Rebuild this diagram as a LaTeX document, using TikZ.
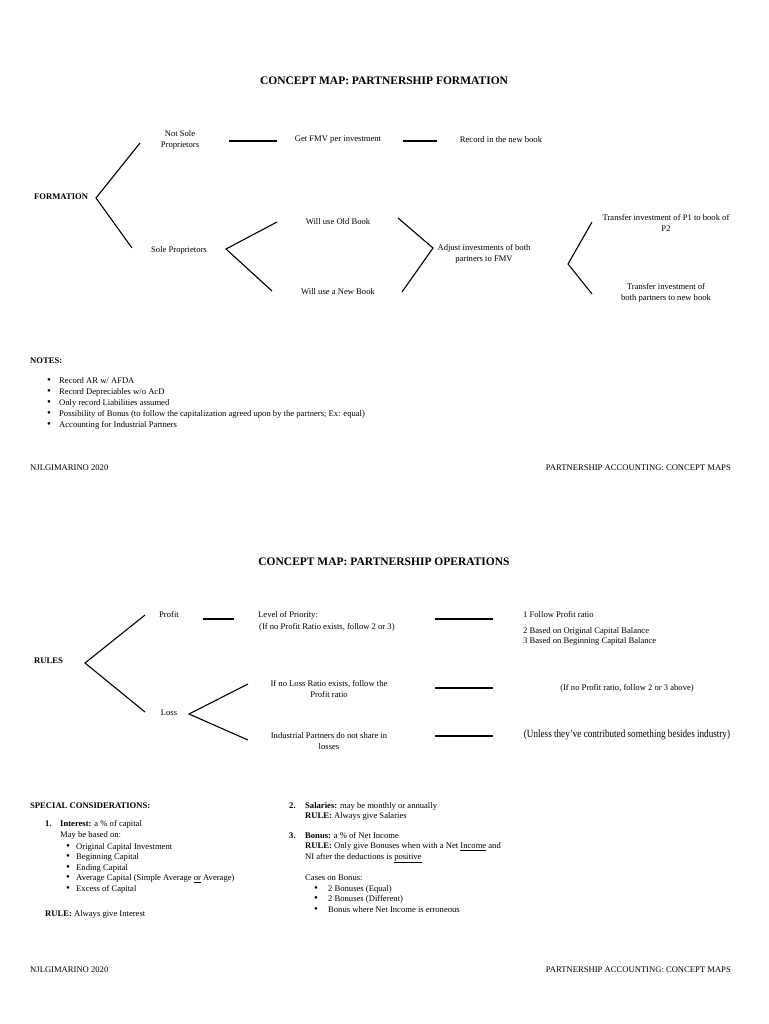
\documentclass[tikz,border=0pt]{standalone}
\usepackage{fontspec}
\setmainfont{Liberation Serif}
\begin{document}
\begin{tikzpicture}[x=1pt,y=-1pt,
  every node/.style={inner sep=0pt, font=\fontsize{8.6}{11.5}\selectfont},
  lbl/.style={align=center},
  lft/.style={anchor=west},
  ttl/.style={font=\fontsize{11.5}{13}\selectfont\bfseries},
  bold/.style={anchor=west, font=\fontsize{8.6}{11.5}\selectfont\bfseries},
  bul/.style={font=\fontsize{11}{11}\selectfont},
  conn/.style={line width=1.1pt, black}
]
\useasboundingbox (0,0) rectangle (768,1024);
\fill[white] (0,0) rectangle (768,1024);

% ---------------- PAGE 1 ----------------
\node[ttl] (t1) at (384,81) {CONCEPT MAP: PARTNERSHIP FORMATION};

\node[bold] (form) at (34,197) {FORMATION};
\node[lbl] (nsp) at (180,140) {Not Sole\\Proprietors};
\node[lbl] (sp) at (179,250) {Sole Proprietors};
\node[lbl] (fmv) at (338,140) {Get FMV per investment};
\node[lbl] (rec) at (501,140) {Record in the new book};
\node[lbl] (old) at (338,222) {Will use Old Book};
\node[lbl] (new) at (338,292) {Will use a New Book};
\node[lbl] (adj) at (484,254) {Adjust investments of both\\partners to FMV};
\node[lbl] (tp1) at (666,223) {Transfer investment of P1 to book of\\P2};
\node[lbl] (tboth) at (666,293) {Transfer investment of\\both partners to new book};

\coordinate (fv) at (96,198);
\coordinate (fa) at (140,143);
\coordinate (fb) at (132,248);
\draw[conn] (fa) -- (fv) -- (fb);

\coordinate (sv) at (226,249);
\coordinate (sa) at (277,222);
\coordinate (sb) at (272,291);
\draw[conn] (sa) -- (sv) -- (sb);

\coordinate (rv) at (433,248);
\coordinate (ra) at (398,218);
\coordinate (rb) at (402,292);
\draw[conn] (ra) -- (rv) -- (rb);

\coordinate (lv) at (568,264);
\coordinate (la) at (592,222);
\coordinate (lb) at (592,294);
\draw[conn] (la) -- (lv) -- (lb);

\coordinate (h1a) at (229,141);
\coordinate (h1b) at (277,141);
\draw[conn] (h1a) -- (h1b);
\coordinate (h2a) at (403,141);
\coordinate (h2b) at (437,141);
\draw[conn] (h2a) -- (h2b);

\node[bold] (notes) at (30,361) {NOTES:};
\foreach \i/\t [count=\k from 0] in {
  1/{Record AR w/ AFDA},
  2/{Record Depreciables w/o AcD},
  3/{Only record Liabilities assumed},
  4/{Possibility of Bonus (to follow the capitalization agreed upon by the partners; Ex: equal)},
  5/{Accounting for Industrial Partners}}{
  \node[bul] (nb\i) at (49,381+11*\k) {\textbullet};
  \node[lft] (nt\i) at (59,381+11*\k) {\t};
}

\node[lft] (foot1l) at (30,468) {NJLGIMARINO 2020};
\node[anchor=east] (foot1r) at (731,468) {PARTNERSHIP ACCOUNTING: CONCEPT MAPS};

% ---------------- PAGE 2 ----------------
\node[ttl] (t2) at (384,562) {CONCEPT MAP: PARTNERSHIP OPERATIONS};

\node[bold] (rules) at (34,661) {RULES};
\node[lbl] (profit) at (169,615) {Profit};
\node[lbl] (loss) at (169,713) {Loss};
\node[lft] (lvl) at (258,615) {Level of Priority:};
\node[lft] (lvl2) at (259,627) {(If no Profit Ratio exists, follow 2 or 3)};
\node[lft] (r1) at (523,615) {1 Follow Profit ratio};
\node[lft] (r2) at (523,631) {2 Based on Original Capital Balance};
\node[lft] (r3) at (523,641) {3 Based on Beginning Capital Balance};
\node[lbl] (nolr) at (329,689) {If no Loss Ratio exists, follow the\\Profit ratio};
\node[lbl] (ipd) at (329,741) {Industrial Partners do not share in\\losses};
\node[lbl] (ifno) at (627,688) {(If no Profit ratio, follow 2 or 3 above)};
\node[lbl, font=\fontsize{11}{12}\selectfont] (unless) at (627,735) {\scalebox{0.83}[1]{(Unless they've contributed something besides industry)}};

\coordinate (rv2) at (85,663);
\coordinate (ra2) at (145,615);
\coordinate (rb2) at (145,712);
\draw[conn] (ra2) -- (rv2) -- (rb2);

\coordinate (lv2) at (189,714);
\coordinate (la2) at (248,684);
\coordinate (lb2) at (248,740);
\draw[conn] (la2) -- (lv2) -- (lb2);

\coordinate (p1a) at (203,619);
\coordinate (p1b) at (234,619);
\draw[conn] (p1a) -- (p1b);
\coordinate (p2a) at (435,619);
\coordinate (p2b) at (493,619);
\draw[conn] (p2a) -- (p2b);
\coordinate (p3a) at (435,688);
\coordinate (p3b) at (493,688);
\draw[conn] (p3a) -- (p3b);
\coordinate (p4a) at (435,736);
\coordinate (p4b) at (493,736);
\draw[conn] (p4a) -- (p4b);

\node[bold] (spc) at (30,806) {SPECIAL CONSIDERATIONS:};
\node[bold] (n1) at (45,824) {1.};
\node[lft] (int) at (60,824) {\textbf{Interest:} a \% of capital};
\node[lft] (mbb) at (60,835) {May be based on:};
\foreach \i/\t [count=\k from 0] in {
  1/{Original Capital Investment},
  2/{Beginning Capital},
  3/{Ending Capital},
  4/{Average Capital (Simple Average \underline{or} Average)},
  5/{Excess of Capital}}{
  \node[bul] (ib\i) at (68,847+10.5*\k) {\textbullet};
  \node[lft] (it\i) at (76,847+10.5*\k) {\t};
}
\node[lft] (rint) at (45,914) {\textbf{RULE:} Always give Interest};

\node[bold] (n2) at (289,806) {2.};
\node[lft] (sal) at (305,806) {\textbf{Salaries:} may be monthly or annually};
\node[lft] (rsal) at (305,816) {\textbf{RULE:} Always give Salaries};
\node[bold] (n3) at (289,836) {3.};
\node[lft] (bon) at (305,836) {\textbf{Bonus:} a \% of Net Income};
\node[lft] (rbon) at (305,847) {\textbf{RULE:} Only give Bonuses when with a Net \underline{Income} and};
\node[lft] (rbon2) at (305,858) {NI after the deductions is \underline{positive}};
\node[lft] (cob) at (305,878) {Cases on Bonus:};
\foreach \i/\t [count=\k from 0] in {
  1/{2 Bonuses (Equal)},
  2/{2 Bonuses (Different)},
  3/{Bonus where Net Income is erroneous}}{
  \node[bul] (bb\i) at (316,889+10.5*\k) {\textbullet};
  \node[lft] (bt\i) at (328,889+10.5*\k) {\t};
}

\node[lft] (foot2l) at (30,970) {NJLGIMARINO 2020};
\node[anchor=east] (foot2r) at (731,970) {PARTNERSHIP ACCOUNTING: CONCEPT MAPS};
\end{tikzpicture}
\end{document}
